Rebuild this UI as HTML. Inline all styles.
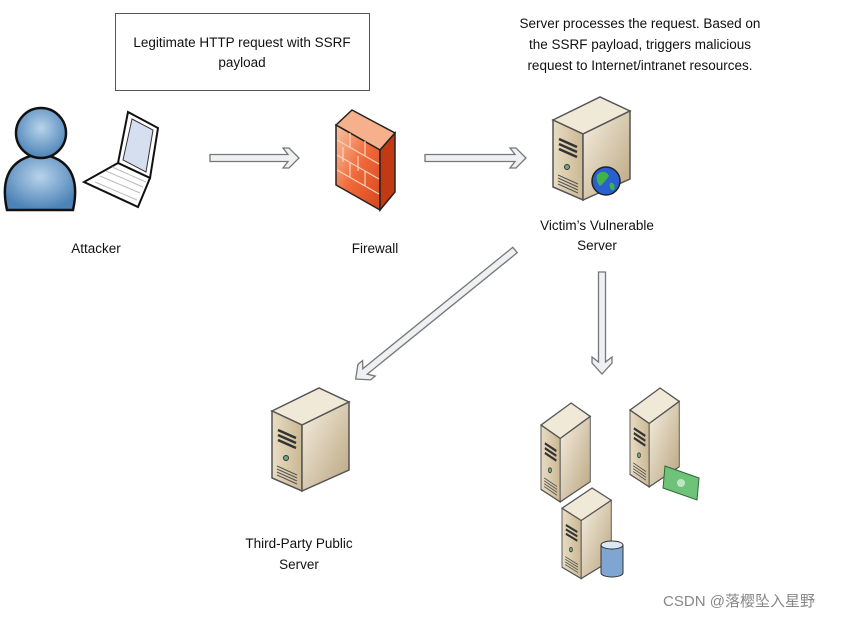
<!DOCTYPE html>
<html><head><meta charset="utf-8"><style>
html,body{margin:0;padding:0;background:#fff;}
svg text{font-family:"Liberation Sans","Noto Sans CJK SC",sans-serif;font-size:13.5px;fill:#111;}
</style></head><body>
<svg width="849" height="620" viewBox="0 0 849 620" xmlns="http://www.w3.org/2000/svg">
<defs>
<linearGradient id="sf" x1="0" y1="0" x2="1" y2="0"><stop offset="0" stop-color="#e8dcc3"/><stop offset="1" stop-color="#cbb893"/></linearGradient>
<linearGradient id="ss" x1="0" y1="0" x2="1" y2="1"><stop offset="0" stop-color="#f6efe2"/><stop offset="1" stop-color="#b9a57e"/></linearGradient>
<radialGradient id="pb" cx="0.5" cy="0.4" r="0.6"><stop offset="0" stop-color="#b9d3ea"/><stop offset="1" stop-color="#4c83b8"/></radialGradient>
<linearGradient id="fw" x1="0" y1="0" x2="1" y2="1"><stop offset="0" stop-color="#f7c6a6"/><stop offset="0.5" stop-color="#f06a3a"/><stop offset="1" stop-color="#d6461e"/></linearGradient>
<g id="srv">
<polygon points="0,23 47,0 77,14 30,37" fill="#f1e9d8" stroke="#555" stroke-width="1.5"/>
<polygon points="0,23 30,37 30,103 0,90" fill="url(#sf)" stroke="#555" stroke-width="1.5"/>
<polygon points="30,37 77,14 77,82 30,103" fill="url(#ss)" stroke="#555" stroke-width="1.5"/>
<path d="M6,42 L24,50 M6,47 L24,55 M6,52 L24,60" stroke="#333" stroke-width="2.5"/>
<circle cx="14" cy="70" r="2.5" fill="#6a8" stroke="#333"/>
<path d="M5,78 L25,87 M5,81 L25,90 M5,84 L25,93 M5,87 L25,96" stroke="#555" stroke-width="1"/>
</g>
</defs>

<rect x="115.5" y="13.5" width="254" height="77" fill="#fff" stroke="#555" stroke-width="1"/>
<text x="242" y="47" text-anchor="middle">Legitimate HTTP request with SSRF</text>
<text x="242" y="67" text-anchor="middle">payload</text>

<text x="640" y="28" text-anchor="middle">Server processes the request. Based on</text>
<text x="640" y="49" text-anchor="middle">the SSRF payload, triggers malicious</text>
<text x="640" y="70" text-anchor="middle">request to Internet/intranet resources.</text>

<!-- attacker -->
<path d="M7,210 C0,178 10,158 40,154 C70,158 80,178 73,210 Z" fill="url(#pb)" stroke="#111" stroke-width="2.5"/>
<circle cx="41" cy="133" r="25" fill="url(#pb)" stroke="#111" stroke-width="2.5"/>
<!-- laptop -->
<polygon points="128,112 158,128 150,178 118,163" fill="#fff" stroke="#111" stroke-width="2"/>
<polygon points="132,119 153,130 146,172 123,160" fill="#d5dff0" stroke="#333" stroke-width="1"/>
<polygon points="118,163 150,178 138,207 84,182" fill="#fff" stroke="#111" stroke-width="2"/>
<path d="M95,182 L137,200 M100,176 L140,193 M106,171 L143,187 M112,167 L146,182" stroke="#bbb" stroke-width="1"/>
<text x="96" y="253" text-anchor="middle">Attacker</text>

<!-- firewall -->
<polygon points="336,125 352,110 395,133 380,150" fill="#f6b08c" stroke="#222" stroke-width="1.5"/>
<polygon points="336,125 380,150 380,210 336,185" fill="url(#fw)" stroke="#222" stroke-width="1.5"/>
<polygon points="380,150 395,133 395,192 380,210" fill="#c23a14" stroke="#222" stroke-width="1.5"/>
<path d="M337,140 L379,164 M337,155 L379,179 M337,170 L379,194 M350,133 L350,148 M365,141 L365,156 M343,147 L343,162 M358,156 L358,171 M350,163 L350,178 M365,171 L365,186" stroke="#fbd2bb" stroke-width="1.2"/>
<text x="375" y="253" text-anchor="middle">Firewall</text>

<g fill="#eef0f4" stroke="#777" stroke-width="1.3">
<polygon points="210,154.5 288,154.5 283,148 289,148 299,158 289,168 283,168 288,161.5 210,161.5"/>
<polygon points="425,154.5 515,154.5 510,148 516,148 526,158 516,168 510,168 515,161.5 425,161.5"/>
<polygon points="598.5,272 605.5,272 605.5,362 612,357 612,363 602,374 592,363 592,357 598.5,362"/>
<g transform="translate(515,250) rotate(141)">
<polygon points="0,-3.5 193,-3.5 188,-10 194,-10 205,0 194,10 188,10 193,3.5 0,3.5"/>
</g>
</g>

<use href="#srv" x="553" y="97"/>
<circle cx="606" cy="181" r="14" fill="#2a5fd0" stroke="#222" stroke-width="1.5"/>
<path d="M597,175 C601,170 607,171 609,176 C606,180 603,184 600,186 C597,183 596,179 597,175 Z M610,183 C613,182 616,185 614,190 C611,191 609,188 610,183 Z" fill="#3fb34a"/>
<text x="597" y="230" text-anchor="middle">Victim’s Vulnerable</text>
<text x="597" y="250" text-anchor="middle">Server</text>

<use href="#srv" x="272" y="388"/>
<text x="299" y="548" text-anchor="middle">Third-Party Public</text>
<text x="299" y="569" text-anchor="middle">Server</text>

<g transform="translate(541,403) scale(0.64,0.96)"><use href="#srv"/></g>
<g transform="translate(630,388) scale(0.64,0.96)"><use href="#srv"/></g>
<polygon points="665,466 699,478 697,500 663,488" fill="#6fc27a" stroke="#2a6a30" stroke-width="1"/>
<circle cx="681" cy="483" r="4" fill="#bfe6c4"/>
<g transform="translate(562,488) scale(0.64,0.88)"><use href="#srv"/></g>
<path d="M601,545 L601,573 A11,4 0 0 0 623,573 L623,545" fill="#7fa6d2" stroke="#333"/>
<ellipse cx="612" cy="545" rx="11" ry="4" fill="#dce8f5" stroke="#333"/>

<text x="739" y="606" text-anchor="middle" style="fill:#888;font-size:15px">CSDN @落樱坠入星野</text>
</svg>
</body></html>
